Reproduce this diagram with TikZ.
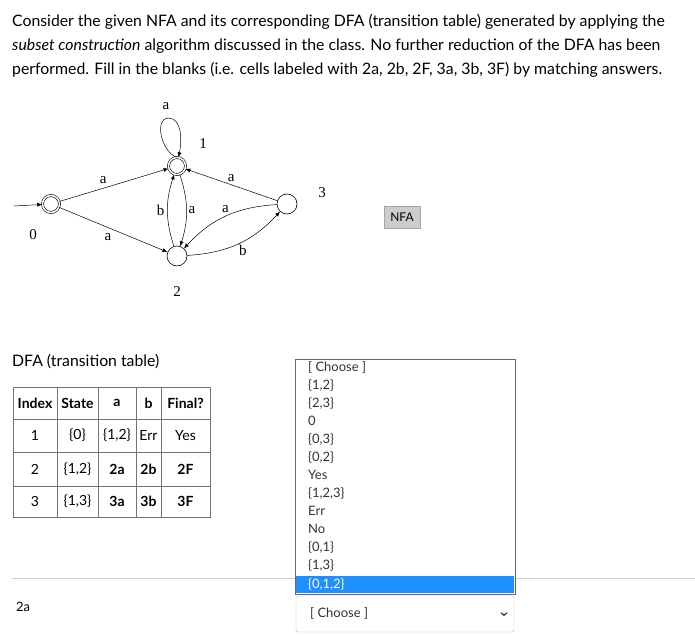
\documentclass[tikz,border=0pt]{standalone}
\usepackage{fontspec}
\setmainfont{Lato}
\newfontfamily\nfafont{Liberation Serif}
\usetikzlibrary{arrows.meta}
\begin{document}
\begin{tikzpicture}[x=1pt,y=-1pt,
  st/.style={circle,draw,minimum size=20pt,inner sep=0pt,line width=0.6pt},
  acc/.style={st,double,double distance=1.5pt,minimum size=17pt},
  ed/.style={-{Latex[length=5pt,width=4pt]},line width=0.5pt},
  lb/.style={font=\nfafont\fontsize{15}{15}\selectfont,inner sep=0pt},
  txt/.style={anchor=west,font=\fontsize{15.8}{17}\selectfont,inner sep=0pt},
  cell/.style={font=\fontsize{14}{16}\selectfont,inner sep=0pt},
  item/.style={anchor=west,font=\fontsize{13}{14}\selectfont,inner sep=0pt,text=black!80}]
\useasboundingbox (0,0) rectangle (695,636);
\node[txt] (l1) at (12,22) {Consider the given NFA and its corresponding DFA (transition table) generated by applying the};
\node[txt] (l2) at (12,46) {\emph{subset construction} algorithm discussed in the class. No further reduction of the DFA has been};
\node[txt] (l3) at (12,70) {performed. Fill in the blanks (i.e. cells labeled with 2a, 2b, 2F, 3a, 3b, 3F) by matching answers.};
% NFA
\node[acc] (q0) at (51,204) {};
\node[acc] (q1) at (177,166) {};
\node[st] (q2) at (177,256) {};
\node[st] (q3) at (287,204) {};
\coordinate (in) at (14,206);
\draw[ed] (in) -- (q0);
\draw[ed] (q0) -- node[lb,above=4pt,pos=0.4]{a} (q1);
\draw[ed] (q0) -- node[lb,below=6pt,pos=0.45]{a} (q2);
\draw[ed] (q2) to[bend left=18] node[lb,left=3pt]{b} (q1);
\draw[ed] (q1) to[bend left=18] node[lb,right=2pt,pos=0.5]{a} (q2);
\draw[ed] (q3) -- node[lb,above=3pt]{a} (q1);
\draw[ed] (q3) to[bend right=22] node[lb,above=3pt,pos=0.5]{a} (q2);
\draw[ed] (q2) to[bend right=22] node[lb,below=3pt,pos=0.55]{b} (q3);
\draw[ed] (q1.95) .. controls (160,150) and (155,118) .. (168,118) .. controls (182,118) and (182,140) .. (q1.80);
\node[lb] (la) at (166,106) {a};
\node[lb] (n1) at (203,144) {1};
\node[lb] (n0) at (33,235) {0};
\node[lb] (n2) at (177,292) {2};
\node[lb] (n3) at (322,193) {3};
\node[draw=black!35,fill=black!20,font=\fontsize{12}{12}\selectfont,minimum width=36pt,minimum height=22pt,inner sep=0pt] (nfa) at (402,217) {NFA};
% DFA table
\node[txt] (dt) at (12,362) {DFA (transition table)};
\draw[black!55,line width=0.8pt] (13,387) rectangle (210,517);
\foreach \x in {57,98,136,161} \draw[black!55,line width=0.8pt] (\x,387) -- (\x,517);
\foreach \y in {419,452,486} \draw[black!55,line width=0.8pt] (13,\y) -- (210,\y);
\node[cell,font=\bfseries\fontsize{14}{16}\selectfont] (h1) at (35,403) {Index};
\node[cell,font=\bfseries\fontsize{14}{16}\selectfont] (h2) at (77.5,403) {State};
\node[cell,font=\bfseries\fontsize{14}{16}\selectfont] (h3) at (117,403) {a};
\node[cell,font=\bfseries\fontsize{14}{16}\selectfont] (h4) at (148.5,403) {b};
\node[cell,font=\bfseries\fontsize{14}{16}\selectfont] (h5) at (185.5,403) {Final?};
\node[cell] (a1) at (35,435.5) {1};
\node[cell] (a2) at (77.5,435.5) {\{0\}};
\node[cell] (a3) at (117,435.5) {\{1,2\}};
\node[cell] (a4) at (148.5,435.5) {Err};
\node[cell] (a5) at (185.5,435.5) {Yes};
\node[cell] (b1) at (35,469) {2};
\node[cell] (b2) at (77.5,469) {\{1,2\}};
\node[cell,font=\bfseries\fontsize{14}{16}\selectfont] (b3) at (117,469) {2a};
\node[cell,font=\bfseries\fontsize{14}{16}\selectfont] (b4) at (148.5,469) {2b};
\node[cell,font=\bfseries\fontsize{14}{16}\selectfont] (b5) at (185.5,469) {2F};
\node[cell] (c1) at (35,501.5) {3};
\node[cell] (c2) at (77.5,501.5) {\{1,3\}};
\node[cell,font=\bfseries\fontsize{14}{16}\selectfont] (c3) at (117,501.5) {3a};
\node[cell,font=\bfseries\fontsize{14}{16}\selectfont] (c4) at (148.5,501.5) {3b};
\node[cell,font=\bfseries\fontsize{14}{16}\selectfont] (c5) at (185.5,501.5) {3F};
% separator and answer row
\draw[black!20,line width=0.8pt] (12,578) -- (695,578);
\node[txt,font=\fontsize{13}{14}\selectfont] (ans) at (16,607) {2a};
\draw[black!25,rounded corners=2pt,fill=white] (296,596) rectangle (514,632);
\node[item] (sel) at (310,613) {[ Choose ]};
\node[inner sep=0pt] (chev) at (504,614) {\tikz[x=1pt,y=1pt]\draw[line width=1.3pt,black!75] (0,2.5)--(3,0)--(6,2.5);};
% dropdown list
\draw[black!60,fill=white,line width=0.8pt] (295,359) rectangle (515,594);
\fill[fill={rgb,255:red,30;green,144;blue,255}] (296,576) rectangle (514,593);
\node[item] (i0) at (308,367) {[ Choose ]};
\node[item] (i1) at (308,385) {\{1,2\}};
\node[item] (i2) at (308,403) {\{2,3\}};
\node[item] (i3) at (308,421) {0};
\node[item] (i4) at (308,439) {\{0,3\}};
\node[item] (i5) at (308,457) {\{0,2\}};
\node[item] (i6) at (308,475) {Yes};
\node[item] (i7) at (308,493) {\{1,2,3\}};
\node[item] (i8) at (308,511) {Err};
\node[item] (i9) at (308,529) {No};
\node[item] (i10) at (308,547) {\{0,1\}};
\node[item] (i11) at (308,565) {\{1,3\}};
\node[item,text=white] (i12) at (308,584) {\{0,1,2\}};
\end{tikzpicture}
\end{document}
